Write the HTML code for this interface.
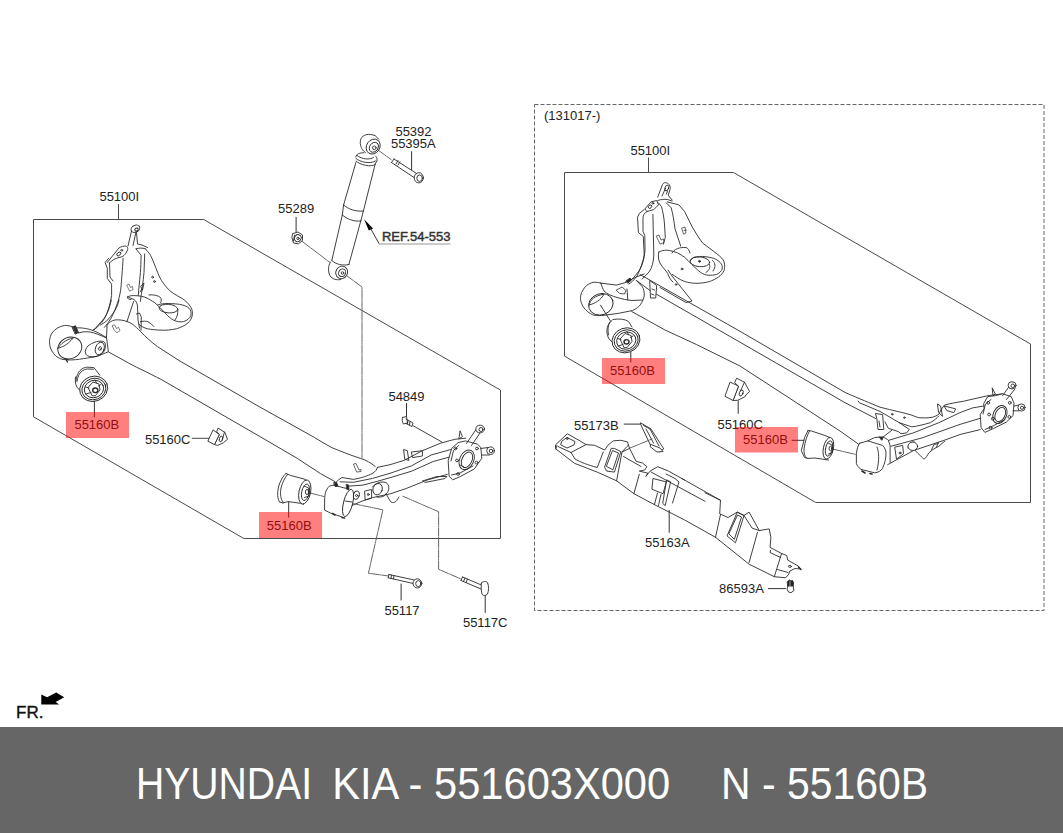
<!DOCTYPE html>
<html><head><meta charset="utf-8"><style>
html,body{margin:0;padding:0;background:#fff;width:1063px;height:833px;overflow:hidden}
svg{position:absolute;left:0;top:0}
text{font-family:"Liberation Sans",sans-serif}
</style></head><body>
<svg width="1063" height="833" viewBox="0 0 1063 833">
<!-- frames -->
<g fill="none" stroke="#4a4a4a" stroke-width="1">
<path d="M33.5 219.5 H203.7 L500.5 390.1 V538.5 H243.8 L33.5 416.8 Z"/>
<path d="M564.5 172.5 H733.5 L1030.5 344 V502.5 H815.7 L564.5 356.1 Z"/>
<path d="M118.5 204 V219.5 M648.5 157.5 V172.5"/>
</g>
<rect x="534.5" y="104.5" width="509.5" height="506" fill="none" stroke="#666" stroke-width="1" stroke-dasharray="4 2"/>

<g id="parts" fill="none" stroke="#2a2a2a" stroke-width="0.9" stroke-linejoin="round" stroke-linecap="round">
<!-- ===== shock absorber ===== -->
<g id="shock">
<path d="M365.3 152.4 C360 149 359.5 142 361 138.7 C363 134.5 369 133 375.3 135.8 L379 139.4"/>
<ellipse cx="373.2" cy="146.6" rx="6.6" ry="7.9" transform="rotate(35 373.2 146.6)" fill="#fff"/>
<ellipse cx="373.9" cy="147.3" rx="4.2" ry="5.3" transform="rotate(35 373.9 147.3)"/>
<circle cx="374.3" cy="147.8" r="1.8"/>
<path d="M355.9 157 C356 154 360 152.5 364 152.8 M375.5 156 C378 158 377.5 162 375.3 163.5"/>
<path d="M356 158.5 C360 162 370 164.5 375.5 161 M356 161 C360 165 371 167.5 375.3 164.5 M357 155.5 C362 159.5 370 160 373.5 157.5"/>
<path d="M355.9 162.5 L343.6 205 M375.3 163.5 L363.4 211"/>
<path d="M343.6 205 C348 209 356 212 363.4 211 M342.3 215 C347 219 354 222 360.8 220.9"/>
<path d="M343.6 205 L342.3 215 M363.4 211 L360.8 220.9"/>
<path d="M342.3 215 L331.8 260.5 M360.8 220.9 L348.9 264.5"/>
<path d="M331.8 260.5 C336 264.5 343 266 348.9 264.5"/>
<path d="M330.5 262 C327.5 266 328 274 331 277 C334 280 338 280 341 279.5"/>
<ellipse cx="341.7" cy="272.4" rx="5.8" ry="6.4" transform="rotate(30 341.7 272.4)" fill="#fff"/>
<ellipse cx="342.2" cy="272.8" rx="3.4" ry="4" transform="rotate(30 342.2 272.8)"/>
<circle cx="342.5" cy="273" r="1.3"/>
</g>
<!-- bolt 55392 -->
<path d="M391.5 162.5 L414 177.5 M394 159 L416.5 173.5 M391.5 162.5 L394 159"/>
<path d="M396 164 L398 160.5 M398 165.2 L400 161.8"/>
<ellipse cx="418.8" cy="177.8" rx="4.6" ry="5.1" fill="#fff"/>
<ellipse cx="419.6" cy="178.2" rx="2.8" ry="3.2"/>
<path d="M378 150 L391 159.5" stroke-dasharray="8 1 1 1" stroke="#555"/>
<path d="M411.6 151.7 V169.8" stroke="#333" stroke-width="1"/>
<!-- nut 55289 -->
<path d="M296.1 217.3 V231.7" stroke="#333" stroke-width="1"/>
<path d="M293 233.5 L298 232 L302.5 235 L302.5 240.5 L298.5 243.8 L293.5 243 L292 238 Z" fill="#fff"/>
<ellipse cx="297.8" cy="238.2" rx="3.2" ry="3.6" transform="rotate(30 297.8 238.2)"/>
<circle cx="298" cy="238.4" r="1.2"/>
<path d="M294.5 235 L293.5 241"/>
<path d="M302 241.3 L330 262.5" stroke-dasharray="8 1 1 1" stroke="#555"/>
<path d="M346.5 275.5 L362 287 V457.8" stroke-dasharray="8 1 1 1" stroke="#555"/>
<!-- ===== left beam assembly ===== -->
<g id="leftbeam">
<!-- cup / spring seat -->
<path d="M145.4 248.8 C147 251 149 252.5 150.5 255.3 C153 260 155 266 157.7 272.6 C160 279 163 283 166.3 287 C170 292 176 295 182.2 298.5 C186 301 189 304 190.8 307.2 C192.5 310 192.8 313 192.2 315.8 C191.5 319 190 321 187.9 323 C184.5 326 180 327.5 176.4 328.8 C171 330 166 330.3 162 330.2 C156 330 151 329.5 147.6 328.8 C144 328 141 326 139 324.4"/>
<path d="M127.4 297.1 C129 296 131 295.5 133.2 295.6 C137 295.6 141 296 144.7 297.1 C148 298.5 151.5 300.5 154.8 302.8 C158 305.5 161.5 309 164.9 312.9 C168 316 170.5 318.5 173.5 320.1 C177 322 180.5 322 183.6 321.6 C187 320.5 189.5 318.5 190.8 315.8 C191.5 313 191 310.5 189.4 308.6 C187 306 183 305 179.3 304.3 C174 303.6 169 303.4 164.9 303.6 C161.5 303.8 159.5 304.3 157.7 305"/>
<path d="M127.4 297.1 C127 298.5 128.5 299.5 131 299.5"/>
<ellipse cx="168.5" cy="308.6" rx="9.4" ry="4.3" transform="rotate(5 168.5 308.6)"/>
<path d="M177.8 310 C178 313.5 177.5 316.5 175 320"/>
<path d="M149 294.9 C154 294.5 158 295.5 160.5 297.5 C161.5 299 161.5 301 160.7 302.8"/>
<circle cx="152.6" cy="277.2" r="0.9"/><circle cx="154.5" cy="281.5" r="0.9"/>
<!-- arm / flange -->
<ellipse cx="135.4" cy="228.7" rx="4.6" ry="3.4" transform="rotate(-25 135.4 228.7)"/>
<ellipse cx="136.5" cy="229.5" rx="1.8" ry="1.4" transform="rotate(-25 136.5 229.5)"/>
<path d="M131.5 231 L128 246 M136 232 L133 245.5 M136.5 232.5 L137.5 244 L142 245 L147.5 247.5"/>
<path d="M107.3 262.5 L118.8 248.1 C121 246.5 124 246 126 246 C128 247 128.5 249.5 126.5 252 C124.5 256 122 257 119 257.5 C115 258.5 112 260 109.5 263"/>
<ellipse cx="118.8" cy="254" rx="2.3" ry="1.5" transform="rotate(-40 118.8 254)"/><ellipse cx="121.7" cy="250.3" rx="1" ry="0.8"/>
<path d="M108.7 258.2 L105.1 262.5 L107.3 268.3 V278.4 L111.6 284.1 V295.6 C110 305 108 312 104.4 318.7 C101 324 97 328 92.9 330.2"/>
<path d="M123.1 258.2 C122.5 270 121.5 280 121 287 C120 296 118 302 115.9 307.2 C113 316 109 322 104.4 327.3"/>
<path d="M109.5 263 L110 277 L113 281"/>
<path d="M136.1 248.8 L137.5 250.9 L141.1 255.3 C141 262 140.8 267 140.4 272.6 C139.5 282 138.8 289 138.2 295.5 M133.6 301.5 C131.5 308 129 315 126.9 321.7"/>
<path d="M144.7 253.9 C144.5 260 144.2 266 144 272.6 C143 282 142 290 141.1 295.6 L140.4 301.4"/>
<path d="M136.1 248.8 C139 247.8 142 247.8 145.4 248.8"/>
<path d="M141 286 L144 283 L142.5 290 Z M140 292 L142 289"/>
<path d="M127 285 L129 284 L130.5 287.5 L132.5 286.5 L133 289.5 L130 291 Z" stroke-width="0.6"/>
<path d="M127.9 296.7 C129.5 298 132 298.5 134 299.5 C136 301 137 303 137.5 306 L138 320 L139.5 328 M136.5 314 L139.5 313 L141.3 317 L141 330.3 M140.3 321.7 C143 321 146 321 148 321.7 C150.5 323 152.5 325 153.8 326.5"/>
<!-- housing -->
<path d="M72.9 326.9 C69 325.5 66 325.3 64.2 325.5 C59 326.5 55 329 52 333 C49 338 49 343 50.5 348 C52 352 55 356 58 357.5 C61 359.5 65 360 68 359.6"/>
<ellipse cx="69.8" cy="348" rx="12.3" ry="10.6" transform="rotate(-25 69.8 348)"/>
<path d="M58 348.5 C60 344 66 339.5 72.9 338 M58.9 348 C62 347 67 345.5 72.9 338.4"/>
<path d="M72.4 327 L75.5 325.8 L78.5 332.5 L75.5 334 Z" fill="#333"/>
<path d="M76.7 327.9 C80 327.5 85 328.3 88 329 C93 330 98 332.5 106.5 337.5 M78.5 333 C82 331.5 86 331.6 90 332 C95 333 100 335 106.5 338"/>
<path d="M68 360 C73 360 78 359.6 83.4 358.6 C89 357.8 93 357.3 96.9 356.2 C101 355 104 353.5 108 351.9"/>
<path d="M85.3 350.9 C86 348 87.5 346 89.2 345.1 C92 343 96 341.5 98.8 341.3 C102 340.8 104.5 341.5 105 343 C106 346 105.5 349 103.5 352 C101 355 98 356.5 95 356.7 C91 357 87 356.5 86 354.5 Z"/>
<ellipse cx="99.8" cy="348.5" rx="4.3" ry="6.5" transform="rotate(20 99.8 348.5)"/>
<ellipse cx="100" cy="348.5" rx="1.3" ry="1.9" transform="rotate(20 100 348.5)"/>
<path d="M66 359.5 L67.5 362" stroke-width="1.4"/>
<path d="M111.3 300 C110 306 109 309 107.4 312.5 C106 316 104 318.5 102.6 320.2 C99 324 96.5 327 94 329.8 M119 300 C118 305 116.5 308 114.2 311.5 C112 315 109 318.5 106.5 321.1 C104 323 102 324 100.7 325"/>
<!-- beam -->
<path d="M106.7 326.5 C108 322 113 319.8 117.3 319.8 C122 319.8 127 321 131.7 323.6 C135 326 138 329 140.3 331.3 C146 337 151 342 157.6 346.7 L180 361.1 L260 407.1 L314.7 437.6 C320 441 326 444.5 332 447.7 C340 451 350 455 360.8 458.5 C366 460 371 463 375.2 466.4"/>
<path d="M107 326.9 L106.5 337.5 L108.4 351.9 L125 361 C130 364 136 367 140 368.9 C148 372.6 155 376.5 161.6 379.7 L260 436.6 L297.5 458.5 L320.5 473.6 L334.9 481.6"/>
<path d="M112.5 325.5 L114.5 324.8 L116.5 328.5 L118.5 327.3 L120 330.5 L117 332.8 L114.5 330.5 Z" stroke-width="0.6"/>
<!-- bushing 1 -->
<path d="M75.8 381.2 C76.5 376 78 372.5 80 370.5 C82.5 368 85 367.3 87.2 367.2 L93.8 367.5 L99.8 375.2 M77 381.5 C77.5 377 79 374 81 372 C83 370 85.5 369 87.5 369 L93.5 369.2"/>
<path d="M75.5 377 C75 380 75.2 384 77 387.2 L80 390.5"/>
<ellipse cx="93.7" cy="388.8" rx="14.2" ry="12.5" transform="rotate(-20 93.7 388.8)" fill="#fff"/>
<ellipse cx="93.9" cy="389" rx="12.2" ry="10.6" transform="rotate(-20 93.9 389)"/>
<ellipse cx="94" cy="389" rx="9.8" ry="8.6" transform="rotate(-20 94 389)"/>
<path d="M92 395.5 L88 387.5 L93 382 L99 384 L100 390 L95.5 395.5 Z"/>
<ellipse cx="95.3" cy="390.3" rx="2.6" ry="2.3" stroke-width="1.4"/>
<path d="M85.5 387 L89 388 M86 394 L91 392.5 M95 380 L96.5 383 M101 384.5 L98.5 386"/>
<path d="M94.4 401.3 V417" stroke="#333" stroke-width="1"/>
<!-- bushing 2 -->
<path d="M286 473.4 C283 476 280 481 278.5 487 C277 493 277.5 499 279.5 502 L283 503 M287.5 474.5 C285 477.5 282.5 482 281 488 C280 494 280.5 499 283 502"/>
<path d="M286 473.5 L290.8 475.5 L304 479 L307 480.5 M283 502.8 L288.4 501.6 L300.4 503.3 L303.5 504.3"/>
<ellipse cx="304.8" cy="492" rx="5.8" ry="12.2" transform="rotate(12 304.8 492)" fill="#fff"/>
<ellipse cx="305.5" cy="492.3" rx="3.8" ry="8.4" transform="rotate(12 305.5 492.3)"/>
<path d="M304 486 L308.5 488 L309 496 L304.5 497.5"/>
<ellipse cx="307" cy="492" rx="1.6" ry="2.6"/>
<path d="M288.7 501.6 V517.2" stroke="#333" stroke-width="1"/>
<path d="M310.6 493.2 L324 496.5" stroke-dasharray="8 1 1 1" stroke="#555"/>
<!-- right trailing arm (left panel) -->
<path d="M333.3 485.1 L329.4 486.1 C327.5 488 326.5 490 326 491 C325 494 324.6 497 324.6 500 L324.6 510.1 L330.4 513 L343.5 517.5" fill="#fff"/>
<path d="M333.3 485.1 L348.6 489"/>
<path d="M334 482.5 L336.5 482.2 L338 486 L335.5 486.5 Z M346.5 484.5 L348.5 485 L349 489.5 L347 489.3 Z" fill="#222"/>
<ellipse cx="348.1" cy="502.9" rx="4.6" ry="14" transform="rotate(14 348.1 502.9)" fill="#fff"/>
<path d="M332.5 513.5 L335 515 M342 517.5 L344.5 518" stroke-width="1.6"/>
<path d="M345 501 L352 502"/>
<path d="M377.4 467.4 C376.5 470 375.5 471.5 373 473 C370 475 364 477 358 478.5 L353.4 479.4 L341.9 477.5 L338.1 480.3 L336.1 482.3"/>
<path d="M377.4 467.4 L390 464.7 L404 460.4 L422.4 450.7 L440.8 443.1 L454.8 439.3 L465.6 438.2"/>
<path d="M340 481.8 L353.4 482.3 L372.6 478.4 L390 473.3 L411.6 465.8 L431.1 455 L450.5 449.6 L454.8 448.5"/>
<path d="M348.6 486.1 L363 485.1 L377.4 481.3 L390 477.7 L411.6 471.2 L433.2 461.5 L449.4 457.1"/>
<path d="M352.5 505.3 L361.1 501.5 L372.6 497.6 L390 493.9 L406.2 488.5 L427.8 479.8 L447.3 474.4"/>
<path d="M422.4 481 L437 476.5 L447 476.5 L445 478.5 L425 482.5"/>
<ellipse cx="356.3" cy="495.2" rx="2.9" ry="4.3" transform="rotate(15 356.3 495.2)"/>
<circle cx="356.6" cy="495.5" r="1"/>
<path d="M365 491 L371.5 489.5 L371.7 498 L365.5 499.8 Z"/><circle cx="368.3" cy="494.5" r="1"/>
<path d="M372.5 487 C375 483 381 481 386 482.5 C390 485 389.5 491 386 494 C384 497 380 497.5 377 497"/>
<ellipse cx="377.6" cy="489.2" rx="4.6" ry="5.8" transform="rotate(20 377.6 489.2)"/>
<path d="M386 494 C388 496 389 500 391 502 C393 503.5 396 502 397 500 L399 497"/>
<path d="M353.8 464 L356 463.5 L359 470 L361 469.5 L361 471.5 L357 472 Z" stroke-width="0.7"/>
<!-- hub -->
<path d="M448.3 460.4 L451.6 448.5 L458.1 442.6 L465.6 440.9 L477.5 444.2 L480.8 447.4 L481.8 458.2 L474.3 469 L460.2 476.6 L452.7 479.8 L449.4 476.6 Z" fill="#fff"/>
<path d="M451 461 L453.5 450.5 L458.7 445.5 M451.5 475 L460 473 L473 466"/>
<ellipse cx="466.7" cy="459.8" rx="7" ry="10.3" transform="rotate(25 466.7 459.8)"/>
<ellipse cx="467" cy="459.8" rx="5" ry="8.2" transform="rotate(25 467 459.8)"/>
<circle cx="455.4" cy="448.5" r="1.4"/><circle cx="477" cy="448.5" r="1.4"/><circle cx="457" cy="460.4" r="1.4"/><circle cx="476.5" cy="462.6" r="1.4"/><circle cx="458.1" cy="474" r="1.4"/>
<path d="M460 465 L464 467"/>
<path d="M466.5 443.5 L476 429.5 M471.5 445.5 L480 433"/>
<ellipse cx="480.2" cy="429" rx="4.3" ry="3.8" fill="#fff"/><circle cx="481" cy="429.5" r="2"/>
<path d="M480.8 448.5 L488 447.5 M482 455 L489.5 455"/>
<ellipse cx="490.5" cy="450.7" rx="3.8" ry="3.8" fill="#fff"/><circle cx="491" cy="451" r="1.8"/>
<path d="M460.2 431.2 L462.4 436.6 L459.2 438.8 Z"/>
<path d="M404 449.6 L407.3 450.7 L408.9 460.4 L405.1 459.3 Z M411.6 452 L422.4 450.7 L422.4 456 L413 457.5 Z"/>
<!-- bolt 54849 -->
<path d="M406.5 403.4 V416.7" stroke="#333" stroke-width="1"/>
<path d="M402.5 417.5 L406.5 416.5 L407.5 423 L403.5 424 C402 422 402 419 402.5 417.5 Z" fill="#fff"/>
<path d="M406 419 L413 423 L412 426.5 L406 423.5"/>
<path d="M408 420.5 L407.5 424 M410 421.5 L409.5 425"/>
<path d="M413.2 425.8 L441.9 442"/>
<!-- bolt 55117 -->
<path d="M389 574.5 L416.5 580.5 M388.2 577.8 L415.5 584 M389 574.5 L388.2 577.8"/>
<path d="M391.5 575 L391 578.5 M394 575.5 L393.5 579"/>
<ellipse cx="417.4" cy="583.4" rx="4.4" ry="4.6" fill="#fff"/>
<ellipse cx="418.3" cy="583.6" rx="2.6" ry="3"/>
<path d="M401.1 584 V600" stroke="#333" stroke-width="1"/>
<path d="M352.5 503.5 L382.9 509.8 L368.4 573.2 L388.5 576" stroke-dasharray="8 1 1 1" stroke="#555"/>
<!-- bolt 55117C -->
<path d="M462.5 577 L482.5 585.5 M461 580.5 L481 589 M462.5 577 L461 580.5"/>
<path d="M465 578 L463.5 581.5 M467.5 579 L466 582.5"/>
<path d="M481.5 583 C483 581 486 581 487.5 582.5 C489 586 488.8 591 487.5 594 C486 596 483 596 482 594 C481 590 481 586 481.5 583 Z" fill="#fff"/>
<path d="M485.2 595.3 V612.5" stroke="#333" stroke-width="1"/>
<path d="M403 496.3 L438.6 511.7 V569.3 L461 579" stroke-dasharray="8 1 1 1" stroke="#555"/>
<!-- 55160C clip -->
<path d="M192.2 438.3 H209" stroke="#333" stroke-width="0.9"/>
<path d="M218.3 428.4 L224.8 432.2 L227.5 439.3 L223.5 442.7 L217.6 445.4 L214.5 444.6 L219.3 434.5 L217 431.8 Z" fill="#fff"/>
<path d="M213.4 430.1 L219.3 434.5 L214.5 444.6 L208.2 441.4 Z" fill="#fff"/>
<path d="M224.4 432.2 L222.3 440"/>
<ellipse cx="221" cy="438.9" rx="1.6" ry="2.9" transform="rotate(15 221 438.9)"/>
</g>
<!-- ===== right panel assembly ===== -->
<g id="rightbeam">
<!-- knob / bracket -->
<path d="M657.7 197.1 L662.5 184.6 C663.5 183 664.5 182.5 665.3 182.7 C667 182.8 668.5 183.5 669.2 184.6 C670.3 186.5 670.5 188 670.1 189.4 L668.2 195.2 L672.1 200"/>
<ellipse cx="666.8" cy="188" rx="1.8" ry="3" transform="rotate(20 666.8 188)"/>
<path d="M662 196 L665.5 188.5 M666.5 194 L667.5 191"/>
<path d="M645.2 208.6 L650.9 201.9 L656.7 200.5 L658.6 204.8 L653.8 209.6 L647.1 211.5 Z"/>
<ellipse cx="650" cy="206.7" rx="1.9" ry="1.5" transform="rotate(-40 650 206.7)"/><circle cx="652.9" cy="203.3" r="0.9"/>
<path d="M644.2 209.6 L639.4 213.4 L637.5 217.3 L638.4 232.6 L643.3 236.5 L644.2 255 C643 262 640 270 637 276 C634 280 631 283 628.8 284"/>
<path d="M647 211.5 C644.5 213 643 215 643 218 L643 231.5 L644.8 235.5 L645 250 C644.5 258 642 268 637.4 273 C635 276 633 278.5 631 280"/>
<path d="M652.9 214.4 L653.8 255 C653.5 262 652 268 649 272 L642.2 279"/>
<path d="M658.6 202.9 L661.5 206.7 C663 212 664 218 664.4 223 L665.3 237.4 L663.4 244.2 M666.3 202.9 L671.1 207.7 C673 214 674 221 675 228.8 L680.7 246.1"/>
<path d="M657.7 200.5 C661 199.5 664 199 667.5 199.5 L672 201"/>
<path d="M667.3 201.9 L678.8 204.8 L684.6 211.5 L692.2 226.9 L698 236.5 L702.6 243 L716.9 253.8 C721 257 723.5 259.5 724 261.8 C725 265 724.8 268 724 270.7 C722.5 273.5 720.5 275.5 718.6 277 C715.5 279 712.5 280.5 709.7 281.5 C705 282.8 701 283.2 697.2 283.3 C692 283.3 688 282.6 684.7 281.5 C682 280.5 679.5 279.2 677.5 277.9 L672.2 274.3"/>
<path d="M658.8 252 C661 250.8 664 250.2 666.8 250.2 C671 250.6 674.5 251.7 677.5 252.9 C680 254.2 682.5 255.7 684.7 257.3 C687 259.5 689.5 262 691.8 264.5 C695 267.5 698 270.5 700.8 272.5 C703.5 274.2 705.5 275 707.9 275.2 C711 275.4 714 275.2 716.9 274.3 C719.5 273 721.3 271.2 722.2 269 C722.6 266.5 722 264.5 720.4 262.7 C718.5 260.7 716 259.2 713.3 258.2 C710 257.2 706 256.6 702.6 256.4 L693.6 257.3 L690 260.9"/>
<ellipse cx="699.9" cy="261.8" rx="9.8" ry="4.9" transform="rotate(5 699.9 261.8)"/>
<circle cx="699.5" cy="261.3" r="0.9" fill="#222"/>
<path d="M709.5 264.5 C710.5 267.5 709.5 270 706 272.5 M712.5 260.5 C715.5 263 716 267 713 271"/>
<path d="M658.8 252 C658 256 658 260 660.5 264 C663 268 666 270.5 667.7 273.5 C669 277 670 279.5 673 282"/>
<circle cx="682" cy="269" r="0.9"/>
<path d="M672 253 C674 249 680 247 686 247.5 C688 248 689.5 250.5 690 253"/>
<path d="M682 228 L685 227 L686 233 L684 234 Z M684 230.5 L686.5 230" stroke-width="0.7"/>
<path d="M656.5 236 L659 235 L661 240 L663.5 239 L664 242.5 L660.5 244 Z" stroke-width="0.7"/>
<!-- housing -->
<path d="M600.9 283.1 C598.5 282.5 596.5 282.2 594.2 282.2 C591 282.7 588.5 284 586.5 285.5 C583.5 288.5 581.5 292 580.8 295.1 C580.2 298 580.5 301 581.7 303.8 C583 306.8 585 309.5 587.5 311.5 C589.5 313.3 591.8 314.6 594.2 315.3 C597.5 315.8 600.5 315.6 603.8 315.3"/>
<ellipse cx="600.9" cy="304.3" rx="12.5" ry="10.6" transform="rotate(-20 600.9 304.3)"/>
<path d="M589.2 305 C590 299.5 595 295.5 603.8 294.2 M589.2 305 C595 303.5 601 300 603.8 294.5"/>
<path d="M600.9 283.1 L616.3 285.1 L625 282.7 L636.5 276.9 L644.2 274"/>
<path d="M603.8 315.3 L618.2 313.4 L632.6 310.5 C637 308.5 639 306.5 640.3 304.8 C642.5 301.5 643.7 298.5 644.2 296.1 C644.5 292.5 643.8 289 642.2 286.5 L636.5 280.7"/>
<path d="M600.9 283.1 C601.5 286 603 289 604 291 C607 294 612 296 617 297.5 C622 299 627 300 632 300.5 L642.5 300"/>
<path d="M616.5 290 L622 287 L626 290.5 L624.5 294 L620 293.5 Z" stroke-width="0.8"/>
<path d="M627 289 L627.8 300"/>
<path d="M626 281 L630 278 L631.5 280 L628 283 Z" fill="#222"/>
<path d="M600.5 305.2 L610.5 321.1"/>
<!-- beam -->
<path d="M640 274.5 L740 331.3 L845 392.4 C860 399 870 403 880 407.2 C893 410.5 905 413 911.9 415.2 C914 416 916 417 918.7 417.7 C923 418 928 418 932.1 417.3 C935 416.5 937 415.5 938.8 414.3 L941.5 409"/>
<path d="M636.5 280.5 L650 290.5 L740 342.2 L845 402.7 L875.8 418.6"/>
<path d="M631.7 311.5 L665 330 L696.4 344.5 L740 366 L840 431 L859.7 445"/>
<path d="M650 280.7 L656.7 285.5 L655.7 298 L650.9 298 Z" fill="#fff"/>
<path d="M652 289 L654.5 290 M651.5 294 L654 295"/>
<path d="M668 270 L672 276 L692 301 L686 302.5 L660 287.5"/><circle cx="676" cy="284.5" r="0.8"/>
<path d="M858.1 401 L859.3 402.7 L880 411.4 L899.3 422.7 L909.4 429.5 L906.6 432.9 L901 433.7 L898.6 431.7 L888.3 428.3 L885 421.9"/>
<path d="M875.8 413.5 L882.6 414.6 L883.8 429.5 L878 429.5 L876.9 419.2 Z" fill="#fff"/>
<path d="M879 421 L880 427"/>
<circle cx="892.2" cy="414.3" r="0.8"/><circle cx="904.4" cy="417.7" r="0.8"/>
<path d="M899.3 422.7 L911.9 426.9 C918 426 924 424.5 930.4 422.7 C934 420.5 936.5 418.5 938.8 416"/>
<!-- right arm -->
<path d="M859.8 443.2 L867.8 440.9 L882.6 445.4 C885 448 886 450.5 886 453.4 C886 458 885 463 882.6 468.2 C881 471 878 472.5 874.6 472.8 L861 469.4 C858.5 467.5 857 465.5 856.4 463.7 L856.4 453.4 C857 448.5 858.2 445 859.8 443.2 Z" fill="#fff"/>
<path d="M877 447 C879 452 879.5 460 877 470"/>
<path d="M867.8 440.9 L874.6 437.5 L882.6 436.9 C885 437.8 887 439 888.4 440.4 L890.1 445.4 V462.5"/>
<path d="M880.8 438.7 L891.8 430.3"/>
<path d="M879.5 437 L883 438 L882 440 Z" fill="#222"/>
<path d="M862 471 L865 473 M870 473.5 L872 474" stroke-width="1.6"/>
<path d="M941.5 409 L944.4 405.1 C950 403.5 956 402.5 963.2 401.3 L987.7 395.7 L1002.7 393.8"/>
<path d="M888.4 440.4 L913.6 432.8 L938.8 422.7 L960 412.6 L972.6 407.9 L983.9 406"/>
<path d="M890.9 446.3 L922 437.9 L960 424.4 L980.2 418.3"/>
<path d="M887.6 464.7 L913.6 450.5 L943.9 440.4 L960 434.5 L980.2 429.6"/>
<path d="M895.1 447.1 L902.7 445.4 L903.5 453.8 L896.8 458.9 Z"/><circle cx="900" cy="453" r="1"/>
<path d="M908 448 C908 443.5 911 441.5 914.5 442"/>
<ellipse cx="912.8" cy="446.3" rx="4.8" ry="4.2" fill="#fff"/>
<path d="M915.3 450.5 C917 452.5 919 454.5 920.3 455.5 C922 457.5 923.5 459 924.5 458.9 C926 458 927.5 455 928.7 453 C932 450 935 448 938.8 446.3 L944.7 441.2"/>
<path d="M931.5 450 L934 444.5 L938 443.5 M936.5 447 L938.5 442.5"/>
<!-- hub -->
<path d="M983.9 403.2 L987.7 396.6 L995.2 395.7 L1002.7 393.8 L1011.2 396.6 L1014 403.2 L1013.1 415.5 L1006.5 422 L993.3 428.6 L984.9 432.4 L981.1 427.7 L980.2 414.5 L983.9 408.9 Z" fill="#fff"/>
<path d="M983 414 L985.5 404 L991 399.5 M985 429.5 L993 426 L1005 419.5"/>
<ellipse cx="999.9" cy="414.5" rx="6.6" ry="9.4" transform="rotate(25 999.9 414.5)"/>
<ellipse cx="1000.2" cy="414.5" rx="4.8" ry="7.5" transform="rotate(25 1000.2 414.5)"/>
<circle cx="988.2" cy="402.8" r="1.4"/><circle cx="1009.8" cy="402.8" r="1.4"/><circle cx="989.1" cy="414.5" r="1.4"/><circle cx="1009.3" cy="416.9" r="1.4"/><circle cx="990.5" cy="427.7" r="1.4"/><circle cx="992.9" cy="418.7" r="1.5"/>
<path d="M1002.7 395.5 L1009.5 386 M1006.5 399.5 L1015 389"/>
<ellipse cx="1012.1" cy="385.3" rx="4" ry="3.6" fill="#fff"/><circle cx="1012.8" cy="385.8" r="1.8"/>
<path d="M1014 406 L1019.5 405 M1013 410.8 L1019.5 410.8"/>
<ellipse cx="1021.5" cy="407.5" rx="3.6" ry="3.6" fill="#fff"/><circle cx="1022" cy="407.8" r="1.6"/>
<path d="M992.4 388.2 L995.2 393.8 L993.3 395.7 Z"/>
<path d="M937.8 404.2 L940.6 406 L942.5 416.4 L938.8 412.6 Z"/>
<path d="M944.4 406 L955.7 408.9 L953.8 412.6 L947.2 410.7 Z"/>
<!-- bushing 3 -->
<path d="M612 320.5 C608 323 606.5 328 607 333 C607.5 337 609 339.5 611.5 341.5 M613 319.5 C619 318.5 625 319 628.5 321.5 L632 327"/>
<path d="M610 322 C607.8 325 607.5 331 608.5 335"/>
<ellipse cx="626" cy="340.3" rx="14.2" ry="12.3" transform="rotate(-20 626 340.3)" fill="#fff"/>
<ellipse cx="626.2" cy="340.5" rx="12.2" ry="10.5" transform="rotate(-20 626.2 340.5)"/>
<ellipse cx="626.3" cy="340.6" rx="9.8" ry="8.5" transform="rotate(-20 626.3 340.6)"/>
<path d="M624 347.5 L620 339 L625 333.5 L631 335.5 L632 341.5 L627.5 347 Z"/>
<ellipse cx="626.5" cy="341.8" rx="2.5" ry="2.2" stroke-width="1.4"/>
<path d="M617.5 338.5 L621 339.5 M618 346 L623 344.5 M627 331.5 L628.5 334.5 M633 336 L630.5 337.5"/>
<path d="M630.8 352 V362" stroke="#333" stroke-width="1"/>
<!-- clip 55160C right -->
<path d="M736.9 378.4 L744.5 382.2 L749.6 391.6 L745.8 394.9 L745.3 396.5 L737.7 400.3 L733.1 400.5 L738.5 386.2 L735 383 Z" fill="#fff"/>
<path d="M730.4 382.2 L738.5 386.2 L733.1 400.5 L725.3 396.5 Z" fill="#fff"/>
<path d="M744.5 382.2 L740.5 391"/>
<ellipse cx="741.2" cy="393" rx="1.8" ry="3.2" transform="rotate(20 741.2 393)"/>
<path d="M738.2 401 V413.4" stroke="#333" stroke-width="1"/>
<!-- bushing 4 -->
<path d="M808 430.5 L804.7 437.3 L801.3 450.8 L804.7 457.6 L808 458.4 M809.5 431 C807 435 805 442 804 449 C803.8 453 804.5 456 806.5 458"/>
<path d="M808 430.5 L811.5 431 L825 435.5 L830 437.5 M808 458.4 L815 458 L825 459.5 L828.5 460"/>
<ellipse cx="828.4" cy="448.3" rx="5" ry="11" transform="rotate(12 828.4 448.3)" fill="#fff"/>
<ellipse cx="829" cy="448.5" rx="3.4" ry="7.8" transform="rotate(12 829 448.5)"/>
<path d="M828 443 L832 445 L832.5 452.5 L828.5 454"/>
<ellipse cx="830.5" cy="448.5" rx="1.4" ry="2.3"/>
<path d="M792 440.3 H803.8" stroke="#333" stroke-width="1"/>
<path d="M834.5 449.5 L856 454.5" stroke-dasharray="8 1 1 1" stroke="#555"/>
</g>
<!-- ===== heat shield ===== -->
<g id="shield">
<path d="M555.8 444.6 L567.3 433.8 L578.8 440.2 L586 444.6 L594.6 445.3 L604.7 450 L608 445.1 L613.4 440.8 L620.9 440.3 L627.4 441.9 L628.5 445.1 L629.6 448.4 L636.1 461.3 L642.5 463 L646.9 466.7 L644.7 470 L639.3 471.1 L647.9 473.2 L645.8 476.5 L650.1 471.1 L657.7 466.7 L668.5 471.1 L681.8 478.5 L720.5 500.3 L719.7 513.8 L728 517.5 L737.3 512.1 L744 515.5 L749.1 512.1 L759.2 530.6 L769.2 528.9 L770.9 537.3 L770.1 547.4 L781.6 553.5 L786.7 555.5 L787.8 560.2 L798.1 565.9 L800.7 569 L795 568.5 L789.9 571 L788.8 574.1 L785.7 577.8 L774.3 576.7 L760.9 570 L749.1 564.2 L715.5 537.3 L684.7 520 L654.4 504.6 L633.9 493.7 L616.6 480.8 L597.2 472.1 L574.5 463.3 L555.8 448.9 Z" fill="#fff"/>
<path d="M555.8 448.9 L557 445.5 M562 441 L567 437.5 L575 441.5 L574 445 L567 448 L561 445 Z"/>
<circle cx="567.3" cy="438.5" r="1"/>
<path d="M558 446.5 L571 452.5 L586 444.6 M571 452.5 L575 459 C580 462 588 465 597.2 467.5 L603.3 452"/>
<path d="M604.7 466.7 L611.2 448.4 L614.4 448.4 L620.9 451.6 L614.4 472.1 L606.9 471.1 Z M606.5 466 L612.5 450.5 L618.5 453 L613 469.5 Z"/>
<path d="M616.6 480.8 L622 452 L627 446.5 L628.5 445.1 M622 452 L629.6 448.4"/>

<path d="M633.9 493.7 L639.3 474.3"/>
<path d="M651.2 472.1 L705 501.3"/>
<path d="M653.3 478.6 L666.3 481.9 L663 493.7 L652.3 489.4 Z"/>
<path d="M657.5 493 L654.4 504.6 M661 494.5 L658.5 505.5"/>
<path d="M667 480 L670.6 481.9 L665.2 505.6 L663 503.5 Z"/>
<path d="M666 474 L675 478.5 L679 482 L672.5 503"/>
<path d="M623.5 456.5 L641 466.5"/>
<path d="M681.8 478.5 L684.5 480 M705 492.7 L720.5 500.3"/>
<path d="M715.5 537.3 L720.5 514.5"/>
<path d="M727.2 535.6 L737.3 512.1 L744 515.5 L735.6 542.4 Z M729 533.5 L737.5 515 L741.5 517 L734.5 539 Z"/>
<path d="M744 515.5 L752 528 L759.2 530.6"/>
<path d="M757.5 532.3 L749.1 562.5"/>
<path d="M774.3 576.7 L781.6 553.5 M770.5 550.5 L770 552.5 L780.5 557.5 M777.5 569.5 L788 572.5"/>
<ellipse cx="789.9" cy="566.4" rx="1.5" ry="1"/><path d="M798.5 567 L801 569.5" stroke-width="1.5"/>
<!-- clip 55173B -->
<path d="M624.2 424.1 H640.7" stroke="#333" stroke-width="1"/>
<path d="M640.7 423 L650.8 428.7 L663.8 448.9 L659.5 451.8 L650.8 446 L640.7 424.4 Z" fill="#fff"/>
<path d="M643.5 425.5 L650 429 L659 446 M646 429 L653.5 443"/>
<path d="M651 444.5 L660 448 L663 451.5 L657 452 L650.5 447 Z" fill="#fff"/>
<path d="M630 448 L652 439" stroke-dasharray="8 1 1 1" stroke="#555"/>
<!-- 86593A clip -->
<path d="M669.2 510.4 V532.3" stroke="#333" stroke-width="1"/>
<path d="M768.4 588.6 H785.5" stroke="#333" stroke-width="1"/>
<path d="M787.5 581.5 L789.5 580 L791 581 L792.5 580.5 L793.5 582.5 L793.2 586.5 L788 586.5 Z" fill="#222" stroke="#222"/>
<path d="M788 586.5 L787 589 L788.5 592 L791 592.7 L794 590.5 L793.2 586.5" fill="#fff"/>
<path d="M790 581.5 L790 586 M789.5 588 L791 591" stroke="#fff" stroke-width="0.6"/>
</g>
<!-- REF leader -->
<path d="M364.1 219.3 L373 228.5 L368.8 230.5 Z" fill="#000" stroke="none"/>
<path d="M369.5 226.5 L379.3 244" stroke="#222"/>
<path d="M379.3 244 H450" stroke="#bbb" stroke-width="1.3"/>
</g>

<!-- labels -->
<g font-size="13" fill="#222" transform="translate(0.4 -0.5)">
<text x="99" y="201">55100I</text>
<text x="74" y="429">55160B</text>
<text x="144.5" y="444">55160C</text>
<text x="277.6" y="213">55289</text>
<text x="395" y="136">55392</text>
<text x="390.5" y="148">55395A</text>
<text x="381.5" y="241" fill="#333" stroke="#333" stroke-width="0.45">REF.54-553</text>
<text x="388" y="401">54849</text>
<text x="266.4" y="530">55160B</text>
<text x="384" y="615">55117</text>
<text x="462.5" y="627.5">55117C</text>
<text x="543.6" y="120">(131017-)</text>
<text x="630" y="155">55100I</text>
<text x="609.7" y="375">55160B</text>
<text x="717" y="429">55160C</text>
<text x="742.7" y="444">55160B</text>
<text x="573.5" y="430">55173B</text>
<text x="644.5" y="547">55163A</text>
<text x="718.7" y="593">86593A</text>
<text x="15.6" y="718.5" font-size="17" fill="#111" stroke="#111" stroke-width="0.35">FR.</text>
</g>
<path d="M41.3 694.4 L47.1 697.3 L56.2 692.5 L64.2 697.3 L55.7 702.1 L59.1 704.5 L41.3 704.5 Z" fill="#000"/>

<!-- red highlight boxes -->
<g fill="rgba(255,0,0,0.5)">
<rect x="66" y="412" width="63" height="26"/>
<rect x="259" y="512" width="63" height="26"/>
<rect x="602" y="358" width="63" height="26"/>
<rect x="735" y="427" width="63" height="25.5"/>
</g>

<!-- bottom bar -->
<rect x="0" y="727" width="1063" height="106" fill="#666"/>
<g font-size="43.5" fill="#fff">
<text x="136" y="799" textLength="176" lengthAdjust="spacingAndGlyphs">HYUNDAI</text>
<text x="332.2" y="799" textLength="338" lengthAdjust="spacingAndGlyphs">KIA - 551603X000</text>
<text x="721" y="799" textLength="207" lengthAdjust="spacingAndGlyphs">N - 55160B</text>
</g>
</svg>
</body></html>
